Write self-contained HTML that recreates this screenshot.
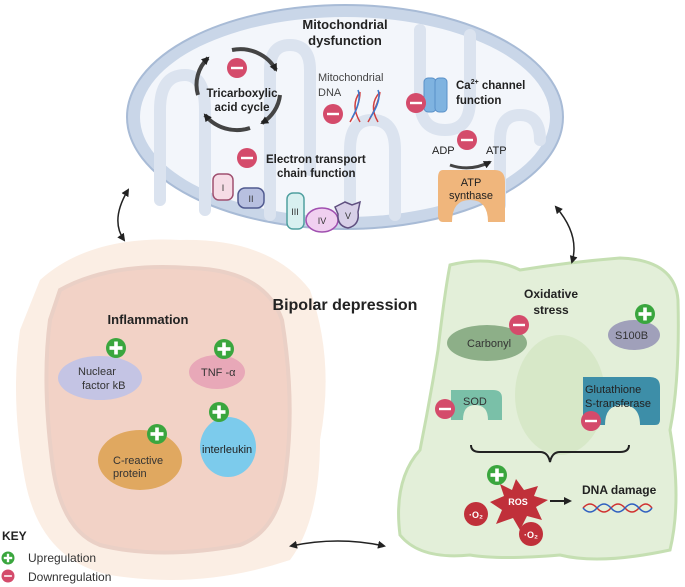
<!DOCTYPE html>
<html><head><meta charset="utf-8"><style>
body{margin:0;background:#fff}
svg{display:block;font-family:"Liberation Sans",sans-serif}
</style></head><body>
<svg width="685" height="587" viewBox="0 0 685 587">
<defs>
<g id="plus"><circle r="10" fill="#3aa63e"/><rect x="-6.5" y="-1.8" width="13" height="3.6" fill="#fff"/><rect x="-1.8" y="-6.5" width="3.6" height="13" fill="#fff"/></g>
<g id="minus"><circle r="10" fill="#d44b6b"/><rect x="-6" y="-1.2" width="12" height="2.4" fill="#fff"/></g>
<marker id="ah" markerWidth="8" markerHeight="8" refX="6" refY="4" orient="auto-start-reverse" markerUnits="userSpaceOnUse"><path d="M0,0 L8,4 L0,8 Z" fill="#222"/></marker>
</defs>

<!-- Mitochondrion -->
<ellipse cx="345" cy="117" rx="218" ry="112" fill="#c9d6e8" stroke="#a8bbd6" stroke-width="2"/>
<ellipse cx="345" cy="117" rx="205" ry="100" fill="#f3f6fb"/>
<g fill="none" stroke="#dbe3ef" stroke-width="12" stroke-linecap="round">
<path d="M160,200 V110 Q160,75 185,75 Q205,75 205,110 V210"/>
<path d="M270,215 V70 Q270,45 290,45 Q310,45 310,70 V170"/>
<path d="M350,217 V150 Q350,120 372,120 Q395,120 395,150 V215"/>
<path d="M420,30 V100 Q420,130 445,130 Q470,130 470,100 V35"/>
<path d="M500,205 V140 Q500,115 520,115 Q540,115 540,140"/>
</g>
<text x="345" y="29" font-size="13" font-weight="bold" text-anchor="middle" fill="#222">Mitochondrial</text>
<text x="345" y="45" font-size="13" font-weight="bold" text-anchor="middle" fill="#222">dysfunction</text>
<!-- TCA -->
<g fill="none" stroke="#444" stroke-width="4">
<path d="M232,50 A40,38 0 0 1 276,70" marker-end="url(#ah)"/>
<path d="M280,95 A40,38 0 0 1 262,123" marker-end="url(#ah)"/>
<path d="M250,128 A40,38 0 0 1 205,115" marker-end="url(#ah)"/>
<path d="M198,95 A40,38 0 0 1 208,58" marker-end="url(#ah)"/>
</g>
<use href="#minus" x="237" y="68"/>
<text x="242" y="97" font-size="11.5" font-weight="bold" text-anchor="middle" fill="#222">Tricarboxylic</text>
<text x="242" y="111" font-size="11.5" font-weight="bold" text-anchor="middle" fill="#222">acid cycle</text>
<!-- DNA -->
<text x="318" y="81" font-size="11" fill="#444">Mitochondrial</text>
<text x="318" y="96" font-size="11" fill="#444">DNA</text>
<use href="#minus" x="333" y="114"/>
<path d="M350,122 Q360,105 360,92 M360,122 Q350,105 360,92 M368,122 Q378,105 380,92 M378,122 Q368,105 380,92" stroke="#d04040" stroke-width="1.5" fill="none"/>
<path d="M352,118 Q362,100 358,90 M370,118 Q382,100 378,90" stroke="#3a7ad0" stroke-width="1.5" fill="none"/>
<!-- Ca -->
<rect x="424" y="78" width="12" height="34" rx="4" fill="#7fb3e0" stroke="#5a90c8"/>
<rect x="435" y="78" width="12" height="34" rx="4" fill="#7fb3e0" stroke="#5a90c8"/>
<use href="#minus" x="416" y="103"/>
<text x="456" y="89" font-size="11.5" font-weight="bold" fill="#222">Ca<tspan font-size="7" dy="-5">2+</tspan><tspan dy="5"> channel</tspan></text>
<text x="456" y="104" font-size="11.5" font-weight="bold" fill="#222">function</text>
<!-- ATP -->
<use href="#minus" x="467" y="140"/>
<text x="432" y="154" font-size="11" fill="#222">ADP</text>
<text x="486" y="154" font-size="11" fill="#222">ATP</text>
<path d="M450,165 Q470,172 490,162" stroke="#444" stroke-width="3" fill="none" marker-end="url(#ah)"/>
<path d="M443,170 H495 Q505,170 505,182 V222 H488 Q488,200 470,200 Q452,200 452,222 H443 Q438,222 438,215 V178 Q438,170 443,170Z" fill="#f0b67c"/>
<text x="471" y="186" font-size="11" text-anchor="middle" fill="#222">ATP</text>
<text x="471" y="199" font-size="11" text-anchor="middle" fill="#222">synthase</text>
<!-- ETC -->
<use href="#minus" x="247" y="158"/>
<text x="266" y="163" font-size="11.5" font-weight="bold" fill="#222">Electron transport</text>
<text x="277" y="177" font-size="11.5" font-weight="bold" fill="#222">chain function</text>
<rect x="213" y="174" width="20" height="26" rx="6" fill="#f6dce6" stroke="#a05070" stroke-width="1.5"/><text x="223" y="191" font-size="9" text-anchor="middle" fill="#333">I</text>
<rect x="238" y="188" width="26" height="20" rx="7" fill="#b8c0e0" stroke="#505a90" stroke-width="1.5"/><text x="251" y="202" font-size="9" text-anchor="middle" fill="#333">II</text>
<rect x="287" y="193" width="17" height="36" rx="6" fill="#d8f0f0" stroke="#50a0a0" stroke-width="1.5"/><text x="295" y="215" font-size="9" text-anchor="middle" fill="#333">III</text>
<ellipse cx="322" cy="220" rx="16" ry="12" fill="#f0d0f0" stroke="#a050b0" stroke-width="1.5"/><text x="322" y="224" font-size="9" text-anchor="middle" fill="#333">IV</text>
<path d="M335,207 L345,202 L352,205 L360,202 L358,212 Q360,225 348,228 Q337,226 338,214Z" fill="#d8d0e8" stroke="#605080" stroke-width="1.5"/><text x="348" y="219" font-size="9" text-anchor="middle" fill="#333">V</text>

<!-- Inflammation -->
<path d="M40,280 Q90,235 180,240 Q270,238 310,290 Q335,360 320,440 Q320,520 290,560 Q200,590 110,575 Q40,560 25,480 Q10,400 20,330Z" fill="#fbeee4"/>
<path d="M60,290 Q110,262 190,268 Q265,270 282,320 Q295,400 286,470 Q280,530 240,545 Q160,560 100,545 Q60,530 52,460 Q42,380 50,320Z" fill="#f2d2c6" stroke="#ead0c6" stroke-width="4"/>
<text x="148" y="324" font-size="13" font-weight="bold" text-anchor="middle" fill="#222">Inflammation</text>
<ellipse cx="100" cy="378" rx="42" ry="22" fill="#c4c4e4"/>
<text x="78" y="375" font-size="11" fill="#333">Nuclear</text><text x="82" y="389" font-size="11" fill="#333">factor kB</text>
<use href="#plus" x="116" y="348"/>
<ellipse cx="217" cy="372" rx="28" ry="17" fill="#e8a8b8"/>
<text x="201" y="376" font-size="11" fill="#333">TNF -α</text>
<use href="#plus" x="224" y="349"/>
<ellipse cx="140" cy="460" rx="42" ry="30" fill="#e0a860"/>
<text x="113" y="464" font-size="11" fill="#333">C-reactive</text><text x="113" y="477" font-size="11" fill="#333">protein</text>
<use href="#plus" x="157" y="434"/>
<ellipse cx="228" cy="447" rx="28" ry="30" fill="#7ccbec"/>
<text x="202" y="453" font-size="11" fill="#222">interleukin</text>
<use href="#plus" x="219" y="412"/>

<text x="345" y="310" font-size="16" font-weight="bold" text-anchor="middle" fill="#222">Bipolar depression</text>

<!-- Oxidative -->
<path d="M450,265 Q490,255 520,270 Q570,262 620,258 Q675,260 678,300 Q680,380 670,430 Q682,500 670,550 Q600,565 560,555 Q500,560 470,555 Q420,560 400,535 Q393,480 420,450 Q430,400 438,350 Q445,290 450,265Z" fill="#e3efd9" stroke="#c5dfb2" stroke-width="3"/>
<ellipse cx="560" cy="395" rx="45" ry="60" fill="#d7e8c8"/>
<text x="551" y="298" font-size="12" font-weight="bold" text-anchor="middle" fill="#222">Oxidative</text>
<text x="551" y="314" font-size="12" font-weight="bold" text-anchor="middle" fill="#222">stress</text>
<ellipse cx="487" cy="343" rx="40" ry="18" fill="#8daf88"/>
<text x="467" y="347" font-size="11" fill="#333">Carbonyl</text>
<use href="#minus" x="519" y="325"/>
<ellipse cx="634" cy="335" rx="26" ry="15" fill="#a0a0ba"/>
<text x="615" y="339" font-size="11" fill="#333">S100B</text>
<use href="#plus" x="645" y="314"/>
<path d="M451,390 H493 Q502,390 502,398 V420 H488 Q488,405 475,405 Q463,405 463,420 H451Z" fill="#7ac0a8"/>
<text x="463" y="405" font-size="11" fill="#333">SOD</text>
<use href="#minus" x="445" y="409"/>
<path d="M583,377 H650 Q660,377 660,387 V420 Q660,425 655,425 H640 Q640,405 622,405 Q605,405 605,425 H583Z" fill="#3d8ea8"/>
<text x="585" y="393" font-size="11" fill="#222">Glutathione</text>
<text x="585" y="407" font-size="11" fill="#222">S-transferase</text>
<use href="#minus" x="591" y="421"/>
<path d="M471,445 Q471,452 480,452 H540 Q548,452 550,462 Q552,452 560,452 H620 Q629,452 629,445" fill="none" stroke="#222" stroke-width="2"/>
<use href="#plus" x="497" y="475"/>
<path d="M516,479 L524,490 L538,486 L534,496 L548,500 L536,507 L542,520 L527,516 L520,530 L513,518 L496,524 L502,510 L490,502 L504,496 L500,484 L512,490Z" fill="#c0303a"/>
<text x="518" y="505" font-size="9" font-weight="bold" text-anchor="middle" fill="#fff">ROS</text>
<circle cx="476" cy="514" r="12" fill="#c0303a"/><text x="476" y="518" font-size="9" font-weight="bold" text-anchor="middle" fill="#fff">·O₂</text>
<circle cx="531" cy="534" r="12" fill="#c0303a"/><text x="531" y="538" font-size="9" font-weight="bold" text-anchor="middle" fill="#fff">·O₂</text>
<line x1="550" y1="501" x2="570" y2="501" stroke="#222" stroke-width="2" marker-end="url(#ah)"/>
<text x="582" y="494" font-size="12" font-weight="bold" fill="#222">DNA damage</text>
<path d="M583,508 Q590,500 597,508 T611,508 T625,508 T639,508 T652,508" stroke="#d03030" stroke-width="1.5" fill="none"/>
<path d="M583,508 Q590,516 597,508 T611,508 T625,508 T639,508 T652,508" stroke="#3060c0" stroke-width="1.5" fill="none"/>

<!-- connectors -->
<path d="M128,190 Q110,220 124,240" fill="none" stroke="#222" stroke-width="1.5" marker-start="url(#ah)" marker-end="url(#ah)"/>
<path d="M556,207 Q580,235 572,262" fill="none" stroke="#222" stroke-width="1.5" marker-start="url(#ah)" marker-end="url(#ah)"/>
<path d="M291,546 Q338,536 384,546" fill="none" stroke="#222" stroke-width="1.5" marker-start="url(#ah)" marker-end="url(#ah)"/>

<!-- key -->
<text x="2" y="540" font-size="12" font-weight="bold" fill="#222">KEY</text>
<g transform="translate(8,558) scale(0.65)"><use href="#plus"/></g>
<text x="28" y="562" font-size="12" fill="#333">Upregulation</text>
<g transform="translate(8,576) scale(0.65)"><use href="#minus"/></g>
<text x="28" y="581" font-size="12" fill="#333">Downregulation</text>
</svg>
</body></html>
